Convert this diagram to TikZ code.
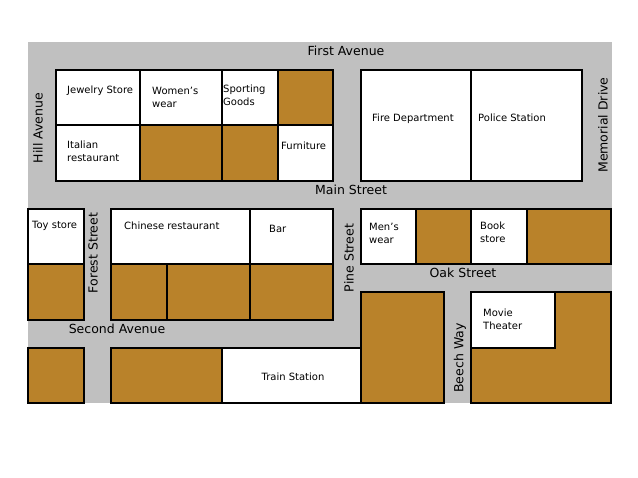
\documentclass[tikz,border=0pt]{standalone}
\usepackage{fontspec}
\setmainfont{DejaVu Sans}
\begin{document}
\begin{tikzpicture}[x=1pt,y=-1pt,
  lot/.style={draw=black,line width=1.6pt},
  wh/.style={lot,fill=white},
  br/.style={lot,fill=brn},
  st/.style={font=\fontsize{12.5}{14}\selectfont,inner sep=0pt},
  lab/.style={font=\fontsize{10}{13}\selectfont,align=left,anchor=north west,inner sep=0pt}]
\definecolor{brn}{RGB}{185,130,42}
\definecolor{road}{RGB}{192,192,192}
\useasboundingbox (0,0) rectangle (638,478);
\fill[road] (28,42) rectangle (612,403);
% block 1
\draw[wh] (56,70) rectangle (140,125);
\draw[wh] (140,70) rectangle (222,125);
\draw[wh] (222,70) rectangle (278,125);
\draw[br] (278,70) rectangle (333,125);
\draw[wh] (56,125) rectangle (140,181);
\draw[br] (140,125) rectangle (222,181);
\draw[br] (222,125) rectangle (278,181);
\draw[wh] (278,125) rectangle (333,181);
\node[lab] (jew) at (67,86) {Jewelry Store};
\node[lab] (wom) at (152,87) {Women's\\wear};
\node[lab] (spo) at (223,85) {Sporting\\Goods};
\node[lab] (ita) at (67,141) {Italian\\restaurant};
\node[lab] (fur) at (281,142) {Furniture};
% block 2
\draw[wh] (361,70) rectangle (471,181);
\draw[wh] (471,70) rectangle (582,181);
\node[lab] (fire) at (372,114) {Fire Department};
\node[lab] (pol) at (478,114) {Police Station};
% row 2
\draw[wh] (28,209) rectangle (84,264);
\draw[br] (28,264) rectangle (84,320);
\node[lab] (toy) at (32,221) {Toy store};
\draw[wh] (111,209) rectangle (250,264);
\draw[wh] (250,209) rectangle (333,264);
\draw[br] (111,264) rectangle (167,320);
\draw[br] (167,264) rectangle (250,320);
\draw[br] (250,264) rectangle (333,320);
\node[lab] (chi) at (124,222) {Chinese restaurant};
\node[lab] (bar) at (269,225) {Bar};
\draw[wh] (361,209) rectangle (416,264);
\draw[br] (416,209) rectangle (471,264);
\draw[wh] (471,209) rectangle (527,264);
\draw[br] (527,209) rectangle (611,264);
\node[lab] (men) at (369,223) {Men's\\wear};
\node[lab] (book) at (480,222) {Book\\store};
% lower right
\draw[br] (361,292) rectangle (444,403);
\draw[br] (471,292) rectangle (611,403);
\draw[wh] (471,292) rectangle (555,348);
\node[lab] (mov) at (483,309) {Movie\\Theater};
% bottom left
\draw[br] (28,348) rectangle (84,403);
\draw[br] (111,348) rectangle (222,403);
\draw[wh] (222,348) rectangle (361,403);
\node[font=\fontsize{10}{13}\selectfont] (train) at (293,377) {Train Station};
% streets
\node[st] (first) at (346,51) {First Avenue};
\node[st] (main) at (351,190) {Main Street};
\node[st] (oak) at (463,273) {Oak Street};
\node[st] (second) at (117,329) {Second Avenue};
\node[st,rotate=90] (hill) at (38,128) {Hill Avenue};
\node[st,rotate=90] (mem) at (603,125) {Memorial Drive};
\node[st,rotate=90] (forest) at (93,253) {Forest Street};
\node[st,rotate=90] (pine) at (349,258) {Pine Street};
\node[st,rotate=90] (beech) at (460,358) {Beech Way};
\end{tikzpicture}
\end{document}
